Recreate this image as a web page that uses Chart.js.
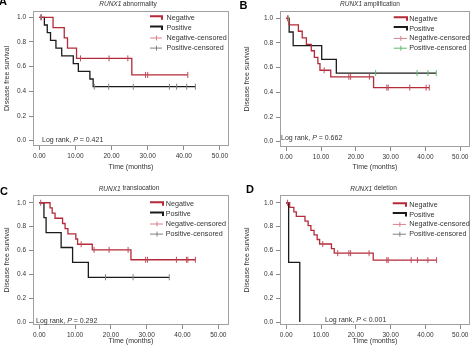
<!DOCTYPE html>
<html><head><meta charset="utf-8">
<script src="https://cdn.jsdelivr.net/npm/chart.js@4/dist/chart.umd.min.js"></script>
<style>
html,body{margin:0;padding:0;background:#fff;}
#wrap{position:relative;width:474px;height:353px;overflow:hidden;background:#fff;}
canvas{position:absolute;display:block;}
</style></head><body>
<div id="wrap">
<canvas id="cA" width="237" height="176" style="left:0;top:0"></canvas>
<canvas id="cB" width="237" height="176" style="left:237px;top:0"></canvas>
<canvas id="cC" width="237" height="177" style="left:0;top:176px"></canvas>
<canvas id="cD" width="237" height="177" style="left:237px;top:176px"></canvas>
</div>
<script>
// ---- shared axis ticks ----
const xTicks = [0, 10, 20, 30, 40, 50];
const yTicks = [0, 0.2, 0.4, 0.6, 0.8, 1.0];
const legendLabels = ['Negative', 'Positive', 'Negative-censored', 'Positive-censored'];

// ---- Panel A: RUNX1 abnormality ----
const aNegT = [0, 3.8, 6.9, 7.8, 10.3, 25.6, 41.1];
const aNegS = [1, 0.917, 0.833, 0.75, 0.667, 0.533, 0.533];
const aNegCensT = [0.4, 11.4, 19.3, 24.5, 29.4, 30.0, 41.1];
const aNegCensS = [1, 0.667, 0.667, 0.667, 0.533, 0.533, 0.533];
const aPosT = [0, 1.4, 2.2, 3.1, 4.6, 6.2, 9.4, 10.8, 14.0, 14.9, 43.2];
const aPosS = [1, 0.9375, 0.875, 0.8125, 0.75, 0.6875, 0.625, 0.5625, 0.5, 0.4375, 0.4375];
const aPosCensT = [0.6, 15.2, 19.2, 26.0, 36.0, 38.0, 40.8, 43.2];
const aPosCensS = [1, 0.4375, 0.4375, 0.4375, 0.4375, 0.4375, 0.4375, 0.4375];

// ---- Panel B: RUNX1 amplification ----
const bNegT = [0, 0.85, 3.5, 4.6, 5.8, 7.2, 8.1, 9.1, 9.7, 12.8, 25.1, 41.1];
const bNegS = [1, 0.947, 0.895, 0.842, 0.789, 0.737, 0.684, 0.632, 0.579, 0.526, 0.438, 0.438];
const bNegCensT = [0.4, 10.9, 18.0, 18.5, 23.9, 28.9, 29.3, 35.5, 40.2, 41.1];
const bNegCensS = [1, 0.579, 0.526, 0.526, 0.526, 0.438, 0.438, 0.438, 0.438, 0.438];
const bPosT = [0, 0.85, 2.0, 10.2, 14.4, 43.1];
const bPosS = [1, 0.889, 0.778, 0.667, 0.556, 0.556];
const bPosCensT = [0.6, 25.7, 37.6, 40.7, 43.1];
const bPosCensS = [1, 0.556, 0.556, 0.556, 0.556];

// ---- Panel C: RUNX1 translocation ----
const cNegT = [0, 3.0, 3.6, 4.4, 6.5, 7.2, 8.0, 10.2, 10.7, 14.8, 25.6, 43.6];
const cNegS = [1, 0.957, 0.913, 0.870, 0.826, 0.783, 0.739, 0.696, 0.652, 0.605, 0.522, 0.522];
const cNegCensT = [0.4, 11.7, 15.3, 19.5, 24.8, 29.7, 30.2, 38.3, 41.1, 41.5, 43.6];
const cNegCensS = [1, 0.652, 0.605, 0.605, 0.605, 0.522, 0.522, 0.522, 0.522, 0.522, 0.522];
const cPosT = [0, 1.3, 1.9, 6.1, 9.3, 13.7, 36.3];
const cPosS = [1, 0.875, 0.75, 0.625, 0.5, 0.375, 0.375];
const cPosCensT = [18.5, 26.2, 36.3];
const cPosCensS = [0.375, 0.375, 0.375];

// ---- Panel D: RUNX1 deletion ----
const dNegT = [0, 1.0, 2.2, 2.9, 5.4, 6.3, 7.1, 8.0, 8.9, 9.6, 13.0, 13.8, 25.0, 43.2];
const dNegS = [1, 0.962, 0.923, 0.885, 0.846, 0.808, 0.769, 0.731, 0.692, 0.654, 0.615, 0.577, 0.519, 0.519];
const dNegCensT = [0.4, 10.5, 14.8, 18.0, 18.5, 23.8, 28.9, 29.3, 35.9, 37.7, 40.7, 43.2];
const dNegCensS = [1, 0.654, 0.577, 0.577, 0.577, 0.577, 0.519, 0.519, 0.519, 0.519, 0.519, 0.519];
const dPosT = [0, 0.7, 3.9];
const dPosS = [1, 0.5, 0];
const dPosCensT = [];
const dPosCensS = [];

// ---- styling ----
const FONT = "'Liberation Sans', Arial, sans-serif";
const RED = '#b42a38', BLACK = '#1b1b1b', PINK = '#d9808e', GRAY = '#808080', GREEN = '#5dba6c';
const TXT = '#333333';

function pts(T, S) { return T.map((t, i) => ({ x: t, y: S[i] })); }
function curve(T, S, color) {
  return { data: pts(T, S), showLine: true, stepped: true, borderColor: color, borderWidth: 1.3,
           pointRadius: 0, pointHoverRadius: 0, fill: false, order: 2 };
}
function cens(T, S, color) {
  return { data: pts(T, S), showLine: false, pointStyle: 'line', rotation: 90, pointRadius: 3,
           pointHoverRadius: 3, borderColor: color, pointBorderColor: color, borderWidth: 1, order: 1 };
}

function drawRuns(ctx, runs, x, y, align) {
  let w = 0;
  runs.forEach(r => { ctx.font = r.f; w += ctx.measureText(r.t).width; });
  let cx = align === 'center' ? x - w / 2 : x;
  ctx.textAlign = 'left';
  runs.forEach(r => { ctx.font = r.f; ctx.fillText(r.t, cx, y); cx += ctx.measureText(r.t).width; });
}

const deco = {
  id: 'deco',
  beforeDatasetsDraw(chart, args, o) {
    const { ctx, chartArea: a } = chart;
    ctx.save();
    ctx.strokeStyle = '#a0a0a0'; ctx.lineWidth = 1;
    ctx.strokeRect(Math.round(a.left) + 0.5, Math.round(a.top) + 0.5,
                   Math.round(a.right - a.left) - 1, Math.round(a.bottom - a.top) - 1);
    ctx.restore();
  },
  afterDraw(chart, args, o) {
    const ctx = chart.ctx;
    ctx.save();
    ctx.fillStyle = '#000';
    ctx.textBaseline = 'middle';
    ctx.font = 'bold 11px ' + FONT;
    ctx.textAlign = 'left';
    ctx.fillText(o.letter, o.letterX, o.letterY);
    ctx.fillStyle = TXT;
    drawRuns(ctx, [{ t: 'RUNX1', f: 'italic 6.5px ' + FONT }, { t: ' ' + o.title, f: '6.5px ' + FONT }],
             o.titleX, o.titleY, 'center');
    drawRuns(ctx, [{ t: 'Log rank, ', f: '7px ' + FONT }, { t: 'P', f: 'italic 7px ' + FONT },
                   { t: ' ' + o.p, f: '7px ' + FONT }], o.logX, o.logY, 'left');
    // legend
    const L = o.legend;
    const cols = [RED, BLACK, PINK, o.posCensColor];
    for (let i = 0; i < 4; i++) {
      const y = L.y + i * L.dy;
      ctx.strokeStyle = cols[i];
      ctx.beginPath();
      if (i < 2) {
        ctx.lineWidth = 2;
        ctx.moveTo(L.x0, y - 1); ctx.lineTo(L.x1, y - 1); ctx.lineTo(L.x1, y + 2.5);
      } else {
        ctx.lineWidth = 1;
        const m = (L.x0 + L.x1) / 2;
        ctx.moveTo(L.x0, y + 0.5); ctx.lineTo(L.x1, y + 0.5);
        ctx.moveTo(m + 0.5, y - 2); ctx.lineTo(m + 0.5, y + 3);
      }
      ctx.stroke();
      ctx.fillStyle = TXT;
      ctx.font = '7.2px ' + FONT;
      ctx.textAlign = 'left';
      ctx.fillText(legendLabels[i], L.tx, y + 0.5);
    }
    ctx.restore();
  }
};

function makePanel(id, P) {
  const canvas = document.getElementById(id);
  const W = canvas.width, H = canvas.height;
  return new Chart(canvas, {
    type: 'scatter',
    data: { datasets: [
      curve(P.negT, P.negS, RED), curve(P.posT, P.posS, BLACK),
      cens(P.negCT, P.negCS, '#c24a5a'), cens(P.posCT, P.posCS, P.posCensColor)
    ] },
    plugins: [deco],
    options: {
      responsive: false, animation: false, events: [],
      layout: { padding: { left: 0, top: P.area.top, right: W - P.area.right, bottom: 0 } },
      plugins: { legend: { display: false }, tooltip: { enabled: false }, deco: P.deco },
      scales: {
        x: { type: 'linear', min: P.xMin, max: P.xMax,
             afterBuildTicks: ax => { ax.ticks = xTicks.map(v => ({ value: v })); },
             afterFit: s => { s.height = H - P.area.bottom; },
             ticks: { font: { family: FONT, size: 6.5 }, color: TXT, padding: 2, autoSkip: false, maxRotation: 0,
                      callback: v => Number(v).toFixed(2) },
             grid: { drawOnChartArea: false, drawTicks: true, tickLength: 4, color: '#8a8a8a', tickColor: '#8a8a8a' },
             border: { display: false },
             title: { display: true, text: 'Time (months)', color: TXT, font: { family: FONT, size: 7 },
                      padding: { top: 0, bottom: P.xTitlePad } } },
        y: { type: 'linear', min: P.yMin, max: P.yMax,
             afterBuildTicks: ax => { ax.ticks = yTicks.map(v => ({ value: v })); },
             afterFit: s => { s.width = P.area.left; },
             ticks: { font: { family: FONT, size: 6.5 }, color: TXT, padding: 3, autoSkip: false,
                      callback: v => Number(v).toFixed(1) },
             grid: { drawOnChartArea: false, drawTicks: true, tickLength: 4, color: '#8a8a8a', tickColor: '#8a8a8a' },
             border: { display: false },
             title: { display: true, text: 'Disease free survival', color: TXT, font: { family: FONT, size: 7 },
                      padding: { top: P.yTitlePad, bottom: 0 } } }
      }
    }
  });
}

makePanel('cA', {
  negT: aNegT, negS: aNegS, posT: aPosT, posS: aPosS, negCT: aNegCensT, negCS: aNegCensS,
  posCT: aPosCensT, posCS: aPosCensS, posCensColor: GRAY,
  area: { left: 33, right: 229, top: 11, bottom: 146 }, xMin: -1.75, xMax: 52.5, yMin: -0.043, yMax: 1.051,
  xTitlePad: 5, yTitlePad: 3,
  deco: { letter: 'A', letterX: -1, letterY: 2, title: 'abnormality', titleX: 128, titleY: 4,
          p: '= 0.421', logX: 42, logY: 140, posCensColor: GRAY,
          legend: { x0: 150, x1: 162, tx: 166.5, y: 17.3, dy: 10.1 } }
});
makePanel('cB', {
  negT: bNegT, negS: bNegS, posT: bPosT, posS: bPosS, negCT: bNegCensT, negCS: bNegCensS,
  posCT: bPosCensT, posCS: bPosCensS, posCensColor: GREEN,
  area: { left: 43, right: 236, top: 11, bottom: 147 }, xMin: -1.78, xMax: 52.8, yMin: -0.043, yMax: 1.059,
  xTitlePad: 5, yTitlePad: 6,
  deco: { letter: 'B', letterX: 2.5, letterY: 5.5, title: 'amplification', titleX: 133, titleY: 4,
          p: '= 0.662', logX: 44, logY: 138, posCensColor: GREEN,
          legend: { x0: 156.7, x1: 170, tx: 172.3, y: 18.3, dy: 9.8 } }
});
makePanel('cC', {
  negT: cNegT, negS: cNegS, posT: cPosT, posS: cPosS, negCT: cNegCensT, negCS: cNegCensS,
  posCT: cPosCensT, posCS: cPosCensS, posCensColor: GRAY,
  area: { left: 33, right: 229, top: 19, bottom: 149 }, xMin: -1.76, xMax: 52.99, yMin: -0.025, yMax: 1.065,
  xTitlePad: 8, yTitlePad: 3,
  deco: { letter: 'C', letterX: 0, letterY: 16, title: 'translocation', titleX: 129, titleY: 12.7,
          p: '= 0.292', logX: 36, logY: 145, posCensColor: GRAY,
          legend: { x0: 150, x1: 163, tx: 165.7, y: 27.3, dy: 10.1 } }
});
makePanel('cD', {
  negT: dNegT, negS: dNegS, posT: dPosT, posS: dPosS, negCT: dNegCensT, negCS: dNegCensS,
  posCT: dPosCensT, posCS: dPosCensS, posCensColor: GRAY,
  area: { left: 43, right: 236, top: 19, bottom: 149 }, xMin: -1.78, xMax: 52.8, yMin: -0.025, yMax: 1.065,
  xTitlePad: 8, yTitlePad: 6,
  deco: { letter: 'D', letterX: 9, letterY: 14, title: 'deletion', titleX: 136.5, titleY: 12.7,
          p: '< 0.001', logX: 88, logY: 144, posCensColor: GRAY,
          legend: { x0: 155.7, x1: 169, tx: 172.3, y: 28.3, dy: 9.8 } }
});
</script>
</body></html>
